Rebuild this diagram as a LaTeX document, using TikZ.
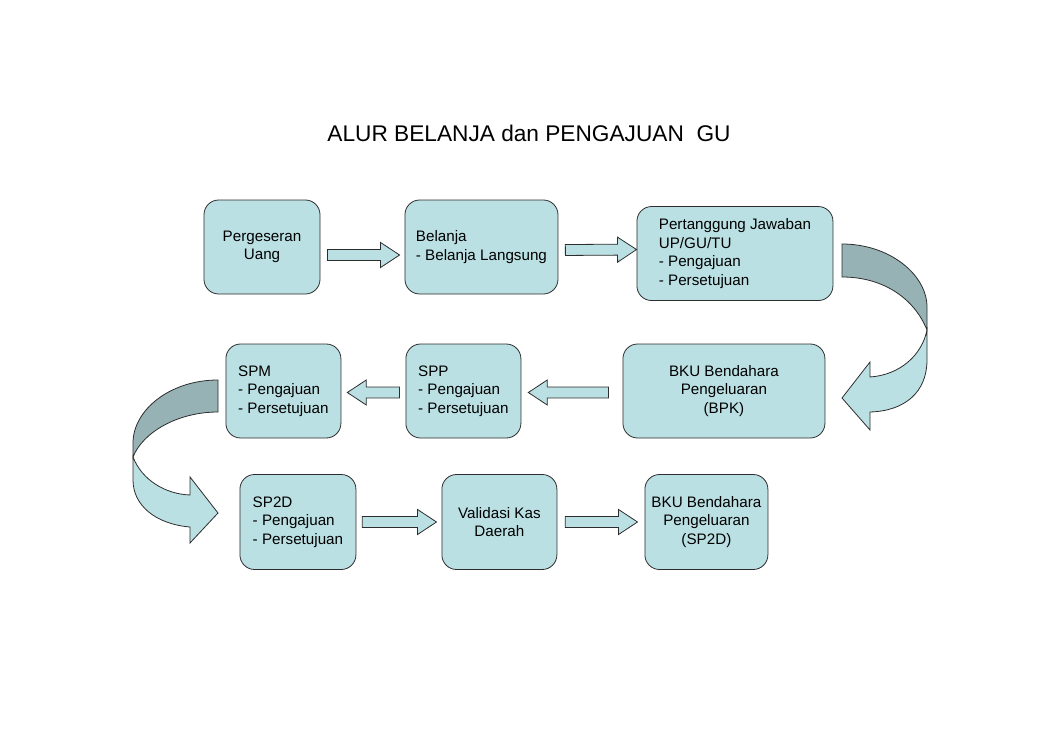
\documentclass[tikz,border=0pt]{standalone}
\usepackage{fontspec}
\setmainfont{Liberation Sans}
\usetikzlibrary{calc}
\definecolor{boxc}{RGB}{187,224,227}
\definecolor{bandc}{RGB}{150,178,180}
\definecolor{linec}{RGB}{45,45,45}
\newcommand{\barw}{4.1pt}
\newcommand{\barhw}{9.4pt}
\newcommand{\barhl}{14.25pt}

\begin{document}
\begin{tikzpicture}[x=0.75pt, y=-0.75pt, inner sep=0pt,
    box/.style={rectangle, rounded corners=11pt, draw=linec, line width=0.6pt, fill=boxc, minimum height=70.5pt, align=left, font=\fontsize{11.4}{14}\selectfont},
    band/.style={draw=linec, line width=0.6pt},
    blockarrow/.style={draw=linec, line width=0.6pt, fill=boxc,
      to path={($(\tikztostart)!\barw!90:(\tikztotarget)$)
        -- ($(\tikztotarget)!\barhl!(\tikztostart)!\barw!-90:(\tikztostart)$)
        -- ($(\tikztotarget)!\barhl!(\tikztostart)!\barhw!-90:(\tikztostart)$)
        -- (\tikztotarget)
        -- ($(\tikztotarget)!\barhl!(\tikztostart)!\barhw!90:(\tikztostart)$)
        -- ($(\tikztotarget)!\barhl!(\tikztostart)!\barw!90:(\tikztostart)$)
        -- ($(\tikztostart)!\barw!-90:(\tikztotarget)$) -- cycle}}]

    \useasboundingbox (0,0) rectangle (1061,749);

    \node[font=\fontsize{17}{20}\selectfont] (title) at (529,133) {ALUR BELANJA dan PENGAJUAN\ \ GU};

    \node[box, minimum width=87pt, align=center] (pergeseran) at (262,247) {Pergeseran\\Uang};
    \node[box, minimum width=114.75pt, right of=pergeseran, node distance=164.6pt] (belanja) {Belanja\\- Belanja Langsung};
    \node[box, minimum width=147pt, right of=belanja, node distance=190.1pt, yshift=-4.9pt] (pertanggung) {Pertanggung Jawaban\\UP/GU/TU\\- Pengajuan\\- Persetujuan};
    \node[box, minimum width=151.5pt, align=center, below of=pertanggung, node distance=103.1pt, xshift=-8.25pt] (bkubpk) {BKU Bendahara\\Pengeluaran\\(BPK)};
    \node[box, minimum width=86.25pt, left of=bkubpk, node distance=195.4pt] (spp) {SPP\\- Pengajuan\\- Persetujuan};
    \node[box, minimum width=86.25pt, left of=spp, node distance=135pt] (spm) {SPM\\- Pengajuan\\- Persetujuan};
    \node[box, minimum width=87pt, minimum height=71.25pt, below of=spm, node distance=98.25pt, xshift=10.9pt] (sptd) {SP2D\\- Pengajuan\\- Persetujuan};
    \node[box, minimum width=86.25pt, minimum height=71.25pt, align=center, right of=sptd, node distance=151.1pt] (validasi) {Validasi Kas\\Daerah};
    \node[box, minimum width=92.25pt, minimum height=71.25pt, align=center, right of=validasi, node distance=155.25pt] (bkusptd) {BKU Bendahara\\Pengeluaran\\(SP2D)};

    % ends of the block arrows
    \coordinate (a1s) at ($(pergeseran.east)+(7,8)$);
    \coordinate (a1e) at ($(belanja.west)+(-5,8)$);
    \coordinate (a2s) at ($(belanja.east)+(7,3)$);
    \coordinate (a2e) at ($(pertanggung.west)+(0,-4)$);
    \coordinate (a3s) at ($(bkubpk.west)+(-14,1.5)$);
    \coordinate (a3e) at ($(spp.east)+(7,1.5)$);
    \coordinate (a4s) at ($(spp.west)+(-6,1.5)$);
    \coordinate (a4e) at ($(spm.east)+(6,1.5)$);
    \coordinate (a5s) at ($(sptd.east)+(6,0)$);
    \coordinate (a5e) at ($(validasi.west)+(-5,0)$);
    \coordinate (a6s) at ($(validasi.east)+(8,0)$);
    \coordinate (a6e) at ($(bkusptd.west)+(-7,0)$);

    \draw[blockarrow] (a1s) to (a1e);
    \draw[blockarrow] (a2s) to (a2e);
    \draw[blockarrow] (a3s) to (a3e);
    \draw[blockarrow] (a4s) to (a4e);
    \draw[blockarrow] (a5s) to (a5e);
    \draw[blockarrow] (a6s) to (a6e);

    % turning arrow on the right
    \filldraw[band, fill=bandc] (842,244) .. controls (890,244) and (927,275) .. (927,307) -- (927,330) .. controls (915,300) and (885,277) .. (842,277) -- cycle;
    \filldraw[band, fill=boxc] (927,330) -- (927,360) .. controls (927,392) and (905,411) .. (870,412) -- (870,430) -- (842,398) -- (870,362) -- (870,377) .. controls (900,375) and (922,355) .. (927,330) -- cycle;

    % turning arrow on the left
    \filldraw[band, fill=bandc] (218,380) .. controls (170,380) and (133,410) .. (133,443) -- (133,457) .. controls (143,432) and (178,412) .. (218,412) -- cycle;
    \filldraw[band, fill=boxc] (133,457) .. controls (142,480) and (165,494) .. (190,495) -- (190,477) -- (218,513) -- (190,543) -- (190,527) .. controls (155,524) and (133,505) .. (133,480) -- cycle;

\end{tikzpicture}
\end{document}
